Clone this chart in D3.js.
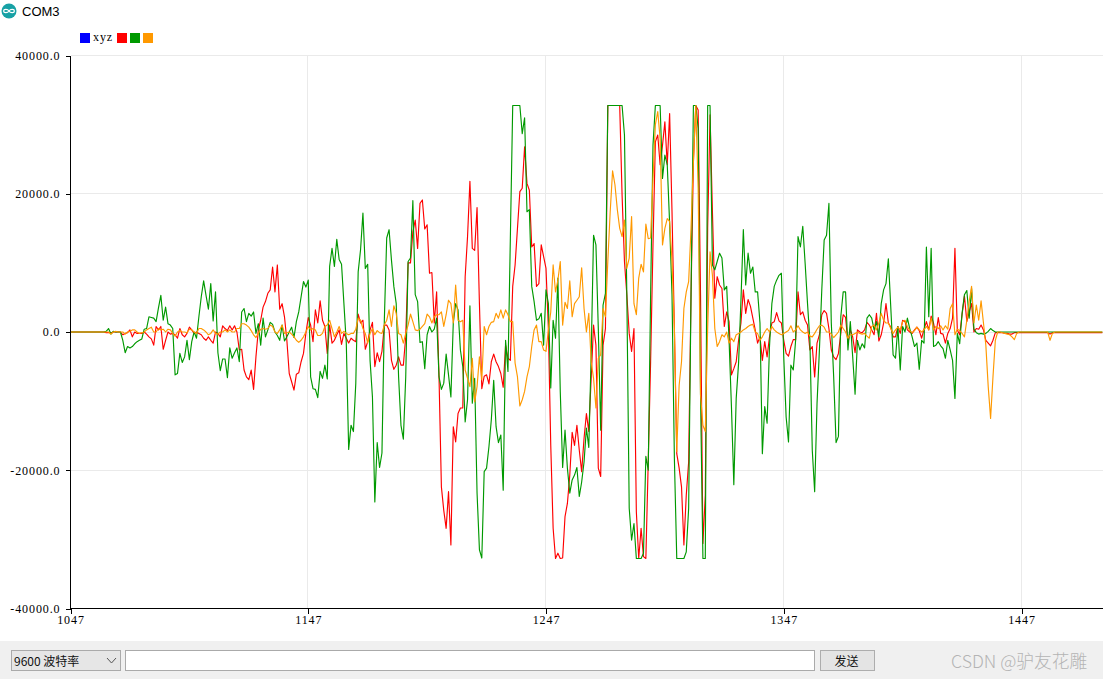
<!DOCTYPE html>
<html lang="zh">
<head>
<meta charset="UTF-8">
<title>COM3</title>
<style>
  * { box-sizing: border-box; }
  html, body { margin: 0; padding: 0; background: #fff; overflow: hidden; }
  body { width: 1103px; height: 679px; position: relative; font-family: "Liberation Sans", sans-serif; }
  svg { position: absolute; left: 0; top: 0; }
  .axis text { font: 12px "Liberation Serif", serif; letter-spacing: 0.9px; fill: #000; }
  .axis path, .axis line { stroke: #000; shape-rendering: crispEdges; }
  .grid line { stroke: #eaeaea; shape-rendering: crispEdges; }
  .bar { position: absolute; left: 0; top: 641px; width: 1103px; height: 38px; background: #f0f0f0; }
  .baud { position: absolute; left: 11px; top: 9px; width: 110px; height: 21px; background: #e6e6e6; border: 1px solid #aaa;
    font: 12px "Noto Sans CJK SC", sans-serif; line-height: 19px; padding-left: 2px; color: #111; }
  .baud svg { left: 94px; top: 6px; }
  .send-input { position: absolute; left: 125px; top: 9px; width: 690px; height: 21px; background: #fff; border: 1px solid #aaa; }
  .send-btn { position: absolute; left: 820px; top: 9px; width: 55px; height: 21px; background: #e4e4e4; border: 1px solid #adadad;
    font: 12px "Noto Sans CJK SC", sans-serif; line-height: 19px; text-align: center; color: #111; padding-right: 2px; }
  .mark { position: absolute; left: 951px; top: 7px; font: 17.7px "Noto Sans CJK SC", sans-serif; font-weight: 300; line-height: 24px; color: #b4b4b4; white-space: nowrap; }
</style>
</head>
<body>
<div class="bar">
  <div class="baud">9600 波特率<svg width="12" height="8"><path d="M1 1 L5.5 6 L10 1" fill="none" stroke="#555"/></svg></div>
  <div class="send-input"></div>
  <div class="send-btn">发送</div>
  <div class="mark">CSDN @驴友花雕</div>
</div>
<script src="https://d3js.org/d3.v7.min.js"></script>
<script>
  // serial plotter samples, one line = 10 samples, first sample = 1047
  const startSample = 1047
  const redValues = [
    0,0,0,0,0,0,0,0,0,0,
    0,0,0,0,0,-100,-100,-100,0,0,
    0,0,-400,-200,-100,300,-700,0,-200,-200,
    -200,0,-300,-700,-1000,-1900,800,300,800,-2500,
    -1200,0,-300,-200,-400,-900,500,-400,-700,-200,
    700,300,-200,0,-200,-400,-900,-1200,-700,-1200,
    -1600,0,-200,-700,900,500,200,900,300,900,
    0,-2600,-2500,-5500,-6500,-6900,-5500,-8300,-3600,300,
    1700,3600,4400,5600,6100,9400,5800,9700,3300,4100,
    2200,-1200,-6000,-7200,-8400,-6100,-5900,-4300,-3100,-200,
    2100,1000,-1400,3200,1300,4500,1700,800,-3100,1000,
    -1600,-1200,-400,300,-1800,-200,-900,-1600,-900,-1200,
    -1400,2600,1300,1700,-2500,-1400,300,1400,-5000,-3000,
    -4300,-2800,1000,1000,300,-4100,-5400,-4800,-3600,-4800,
    -4800,-700,10000,10000,14500,16200,12100,18600,19100,14900,
    15500,8500,8600,1300,5800,-6500,-22400,-25800,-28400,-23100,
    -30800,-13700,-15900,-11800,-11000,-11000,8000,13800,21800,12100,
    11800,18000,4100,-8200,-6400,-6200,-7500,-4300,-3200,-4300,
    -5000,-6000,-8000,-1900,-3800,-4100,6600,9700,15000,20300,
    20800,26800,21500,20500,12300,12800,6600,7000,12600,10900,
    9200,500,-16400,-28400,-32768,-32000,-32768,-32700,-26700,-24800,
    -20700,-14500,-16400,-13500,-17100,-20200,-15400,-11800,-14400,-6700,
    1000,-1900,-19700,-20900,-1900,500,32768,32768,32768,32768,
    32768,32768,19800,10200,5400,-200,-2800,500,-26000,-32768,
    -28400,-32500,-32768,-18800,-4300,12600,27500,28500,24200,27000,
    30400,24200,31600,17400,500,-17600,-19700,-22400,-30800,-23600,
    -18800,5400,24600,32768,32100,5400,-30600,-23600,15000,31400,
    17400,4900,8000,6800,6300,800,2900,1500,-6200,-5300,
    -4300,-1200,1300,6100,2700,4700,3700,2000,300,-1600,
    -700,-4100,-1400,-3600,-700,1300,1500,2800,1600,1300,
    -1200,-3100,-3500,-2100,-1100,-1100,5800,2500,2900,1700,
    1000,-2600,-2100,-6500,-1600,-400,2500,3100,2700,500,
    -2600,-3600,-4000,-3100,-200,2500,2100,-1600,300,-700,
    -3000,300,0,-100,300,1400,1000,300,-400,2700,
    -1300,-400,1300,4100,1300,700,-700,-700,800,-200,
    1700,1500,300,0,-200,300,700,200,-900,400,
    1500,300,2300,1300,-400,2100,-200,-300,-1600,-200,
    500,2000,12100,300,-400,2500,5200,1500,2900,4100,
    0,500,400,1000,300,-1200,-1600,-2000,-1200,-100,
    -100,-100,-100,-200,-200,-300,-300,-100,-100,-100,
    -100,-100,-100,-100,-100,-100,-100,-100,-100,-100,
    -100,-100,-300,-100,-100,-100,-100,-100,-100,-100,
    -100,-100,-100,-100,-100,-100,-100,-100,-100,-100,
    -100,-100,-100,-100,-100
  ]
  const greenValues = [
    0,0,0,0,0,0,0,0,0,0,
    0,0,0,0,0,100,500,-300,100,0,
    0,0,-1200,-3000,-2100,-2300,-2100,-1700,-1400,-1200,
    -1000,400,500,2200,2100,2000,1500,3500,5300,1700,
    3600,1200,1000,500,-6200,-6000,-3100,-4400,-3600,-1200,
    -4000,-1400,0,-900,2200,5100,7400,5300,3300,7000,
    1600,5800,-3000,-5600,-3900,-3900,-6600,-2300,-3800,-3000,
    -2300,-4300,2900,3400,1500,2700,2300,2900,-200,1200,
    -1900,2000,-700,300,1400,1100,0,-500,-1200,1000,
    -1300,-700,0,700,-800,1500,2900,5100,7300,6500,
    7500,-6500,-8200,-8300,-9500,-5700,-6700,-4800,-6800,9500,
    12100,9500,13400,10500,9800,4100,-1600,-17000,-13500,-14400,
    -7400,8700,11900,17200,9200,9800,-4100,-9400,-24600,-16000,
    -19600,-17500,1700,13600,14800,10400,6600,4100,-6500,-13500,
    -15500,-6500,10200,10700,19000,5400,4400,-1500,-1400,-5300,
    -400,800,0,400,2000,-6500,-8300,-7400,-3200,-6200,
    -9400,1300,4100,3200,-2600,-5000,-13000,-9800,3800,-10300,
    -6700,-23300,-31500,-32700,-20200,-19700,-16600,-12700,-7000,-13700,
    -16000,-14900,-22900,-1200,-5700,13500,32768,32768,32768,32768,
    28700,31000,17400,17700,6600,4400,1700,1900,2700,-1900,
    6100,4100,-8100,1700,-900,7800,-8600,-19600,-14200,-19700,
    -23300,-21400,-20700,-19600,-23800,-21700,-18800,-13900,-16700,-3300,
    14000,12600,500,-14200,3900,5600,32768,32768,32768,32768,
    32768,32768,32768,28500,5400,-25500,-30100,-27700,-32768,-32768,
    -32768,-32000,-18000,-20000,5400,27000,32768,32768,32768,22200,
    25600,24200,15700,5400,-18300,-32768,-32768,-32768,-32768,-31800,
    -25500,5400,32768,32768,29500,-9100,-32768,-32768,32768,32768,
    9700,9000,10200,11400,10700,6100,6600,-1200,-10800,-22100,
    -9600,-4500,4600,14800,6800,11400,8500,9400,5800,5800,
    1300,-17600,-10800,-13200,-2100,4100,6600,7500,8200,8500,
    -3600,-12300,-15900,-4800,-5500,-1200,13800,12300,15300,9900,
    4100,-1200,-17100,-23100,-10300,-2600,6100,13300,14000,18600,
    1300,-6500,-16000,-15100,2200,5800,5800,-2600,1500,-3600,
    -9000,-1200,-2600,-1700,-2300,2000,2500,2000,300,1500,
    -700,4100,6100,7000,10600,3700,-3300,-3800,800,-5500,
    800,0,2000,500,-700,-2100,-1600,-5400,-1200,-1600,
    12300,2200,12100,-2100,-1900,-1400,-2000,-2400,-3800,-1200,
    -2600,-4100,-9600,-200,-1700,2700,5400,6000,2000,6300,
    400,-100,-300,-200,-300,-200,100,500,200,0,
    0,0,0,0,0,0,0,0,0,0,
    0,0,0,0,0,0,0,0,0,0,
    0,0,0,0,0,0,0,0,0,0,
    0,0,0,0,0,0,0,0,0,0,
    0,0,0,0,0
  ]
  const orangeValues = [
    0,0,0,0,0,0,0,0,0,0,
    0,0,0,0,0,0,0,-300,0,100,
    0,0,0,-300,0,100,300,300,0,-200,
    -100,0,300,500,700,0,0,500,300,400,
    0,400,300,-200,-600,0,200,0,0,-100,
    400,300,0,-200,500,500,300,0,-400,-200,
    300,-200,-300,0,0,300,0,300,0,0,
    500,500,1200,1200,1000,700,200,-400,-800,-200,
    400,500,400,500,1000,800,0,-200,300,1000,
    -200,-100,0,-300,-700,-1200,-1500,-1200,-700,0,
    800,300,500,300,-500,-500,-200,800,1000,1700,
    500,-700,0,800,-200,100,-200,-400,-200,-200,
    400,2000,1700,500,-200,-1600,-200,500,-400,200,
    -100,-200,1000,1700,3200,800,3800,2700,-200,-400,
    -1600,-200,1000,2600,1500,300,200,400,800,1200,
    2600,2200,1300,2200,2500,2500,2900,800,2500,4600,
    4100,1300,6800,1700,1500,1700,-5500,-6700,-7900,-3800,
    -10100,-7900,-3600,-6900,800,-400,800,1400,1500,2700,
    2000,3200,2000,3200,2500,1500,1500,-4500,-6500,-10700,
    -9800,-8600,-6500,-5000,-2100,300,1000,-1400,-1400,-2600,
    -2800,300,2900,9700,5800,7500,10200,1000,4300,3400,
    7400,2200,4100,4600,5100,9300,3400,0,2700,-4300,
    -6700,-11000,-3800,-3300,3400,2200,10200,17400,23300,21300,
    17700,15000,13800,16200,9200,10700,16700,4100,2500,7800,
    9800,8700,15600,13500,13600,22200,30000,31900,28000,12600,
    15000,16400,16000,10200,500,-17300,-7700,-4300,3400,5800,
    7300,15000,24600,32768,20800,-9100,-13500,-14400,500,11600,
    8200,500,-2100,-1400,-400,-700,0,-1600,-900,-1400,
    -400,-200,0,300,500,800,1000,1100,0,-200,
    -1200,-700,0,500,0,800,300,0,-200,-400,
    -200,0,200,900,0,300,900,300,0,-200,
    0,-600,-700,-200,400,900,1000,700,0,0,
    -300,-800,-400,0,1000,500,0,-900,-400,-400,
    -200,0,-200,-300,-200,-600,-900,800,1000,300,
    1300,2700,1700,1300,1300,500,-200,300,700,300,
    1500,1700,800,200,-100,200,700,300,0,300,
    800,300,2000,300,800,500,900,300,900,400,
    3400,4100,-400,400,200,-200,-700,1700,4400,6600,
    1300,3900,1700,4500,1300,-1900,-7900,-12500,-6500,-1200,
    0,0,-100,-200,-300,-400,-700,-1100,-200,0,
    0,0,0,0,0,0,0,0,0,0,
    0,0,-1200,-200,0,0,0,0,0,0,
    0,0,0,0,0,0,0,0,0,0,
    0,0,0,0,0
  ]
  const xTickValues = [1047, 1147, 1247, 1347, 1447]
  const yTickValues = [-40000, -20000, 0, 20000, 40000]
  const legendColors = ['#0000ff', '#ff0000', '#009900', '#ff9900']
  const legendLabels = ['xyz', '', '', '']

  let width = 1103
  let height = 679
  let plotL = 70.5
  let plotR = 1103
  let plotT = 55.5
  let plotB = 608.5

  let svg = d3.select('body').insert('svg', ':first-child')
    .attr('width', width).attr('height', height)

  // 1447 sits at x=1021
  let xScale = d3.scaleLinear().domain([1047, 1447]).range([plotL, 1021.5])
  let yScale = d3.scaleLinear().domain([-40000, 40000]).range([plotB, plotT])

  drawHeader()
  drawGrid()
  drawLines()
  drawAxis()
  drawLegend()

  function drawHeader () {
    svg.append('circle').attr('cx', 9).attr('cy', 11).attr('r', 7.5).attr('fill', '#17a1a5')
    svg.append('path').attr('d', 'M9 11 C7.5 8.6 3.6 9 3.6 11 C3.6 13 7.5 13.4 9 11 C10.5 8.6 14.4 9 14.4 11 C14.4 13 10.5 13.4 9 11')
      .attr('fill', 'none').attr('stroke', '#fff').attr('stroke-width', 1.2)
    svg.append('text').attr('x', 22).attr('y', 16).text('COM3')
      .style('font', '13px "Liberation Sans", sans-serif').attr('fill', '#000')
  }

  function drawGrid () {
    let grid = svg.append('g').attr('class', 'grid')
    grid.selectAll('.gx').data(xTickValues.slice(1)).enter().append('line')
      .attr('x1', d => Math.round(xScale(d)) - 0.5).attr('x2', d => Math.round(xScale(d)) - 0.5)
      .attr('y1', plotT).attr('y2', plotB)
    grid.selectAll('.gy').data(yTickValues.slice(1)).enter().append('line')
      .attr('x1', plotL).attr('x2', plotR)
      .attr('y1', d => yScale(d)).attr('y2', d => yScale(d))
  }

  function drawLines () {
    let line = d3.line()
      .x((d, i) => xScale(startSample + i))
      .y(d => yScale(d))
    let series = [
      { values: redValues, color: legendColors[1] },
      { values: greenValues, color: legendColors[2] },
      { values: orangeValues, color: legendColors[3] }
    ]
    svg.selectAll('.series').data(series).enter().append('path')
      .attr('class', 'series')
      .attr('d', d => line(d.values))
      .attr('fill', 'none')
      .attr('stroke', d => d.color)
      .attr('stroke-width', 1.15)
      .attr('stroke-linejoin', 'round')
  }

  function drawAxis () {
    let xAxis = d3.axisBottom(xScale)
      .tickValues(xTickValues)
      .tickSize(5)
      .tickPadding(2)
      .tickFormat(d3.format('d'))
    let gx = svg.append('g').attr('class', 'axis')
      .attr('transform', 'translate(0,' + plotB + ')')
    xAxis(gx)
    gx.select('.domain').attr('d', 'M' + plotL + ',0H' + plotR)

    let yAxis = d3.axisLeft(yScale)
      .tickValues(yTickValues)
      .tickSize(5)
      .tickPadding(5)
      .tickFormat(d => d.toFixed(1))
    let gy = svg.append('g').attr('class', 'axis')
      .attr('transform', 'translate(' + plotL + ',0)')
    yAxis(gy)
    gy.select('.domain').attr('d', 'M0,' + plotT + 'V' + plotB)
  }

  function drawLegend () {
    let legendX = [80, 117, 130, 143]
    let g = svg.append('g').attr('class', 'legend')
    g.selectAll('rect').data(legendColors).enter().append('rect')
      .attr('x', (d, i) => legendX[i]).attr('y', 33)
      .attr('width', 10).attr('height', 10)
      .attr('fill', d => d)
    g.append('text').attr('x', 93).attr('y', 41).text(legendLabels[0])
      .style('font', '12px "Liberation Serif", serif')
      .style('letter-spacing', '0.9px')
      .attr('fill', '#000')
  }
</script>
</body>
</html>
